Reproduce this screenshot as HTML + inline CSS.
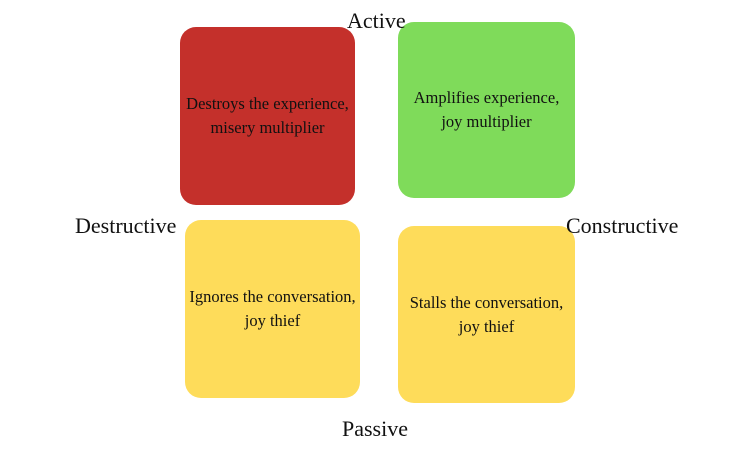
<!DOCTYPE html>
<html><head><style>
body{margin:0;width:750px;height:450px;background:#fff;position:relative;overflow:hidden;font-family:"Liberation Serif",serif;color:#111}
.b{position:absolute;border-radius:16px;display:flex;align-items:center;justify-content:center;text-align:center;font-size:16.5px;line-height:24px;white-space:nowrap}
.l{position:absolute;font-size:22px;line-height:24px;white-space:nowrap}
</style></head><body>
<div class="b" style="left:180px;top:27px;width:175px;height:178px;background:#c4302b">Destroys the experience,<br>misery multiplier</div>
<div class="b" style="left:398px;top:22px;width:177px;height:176px;background:#7fdb5a">Amplifies experience,<br>joy multiplier</div>
<div class="b" style="left:185px;top:220px;width:175px;height:178px;background:#fedc5a">Ignores the conversation,<br>joy thief</div>
<div class="b" style="left:398px;top:226px;width:177px;height:177px;background:#fedc5a">Stalls the conversation,<br>joy thief</div>
<div class="l" style="left:347px;top:9px">Active</div>
<div class="l" style="left:342px;top:417px">Passive</div>
<div class="l" style="left:75px;top:214px">Destructive</div>
<div class="l" style="left:566px;top:214px">Constructive</div>
</body></html>
